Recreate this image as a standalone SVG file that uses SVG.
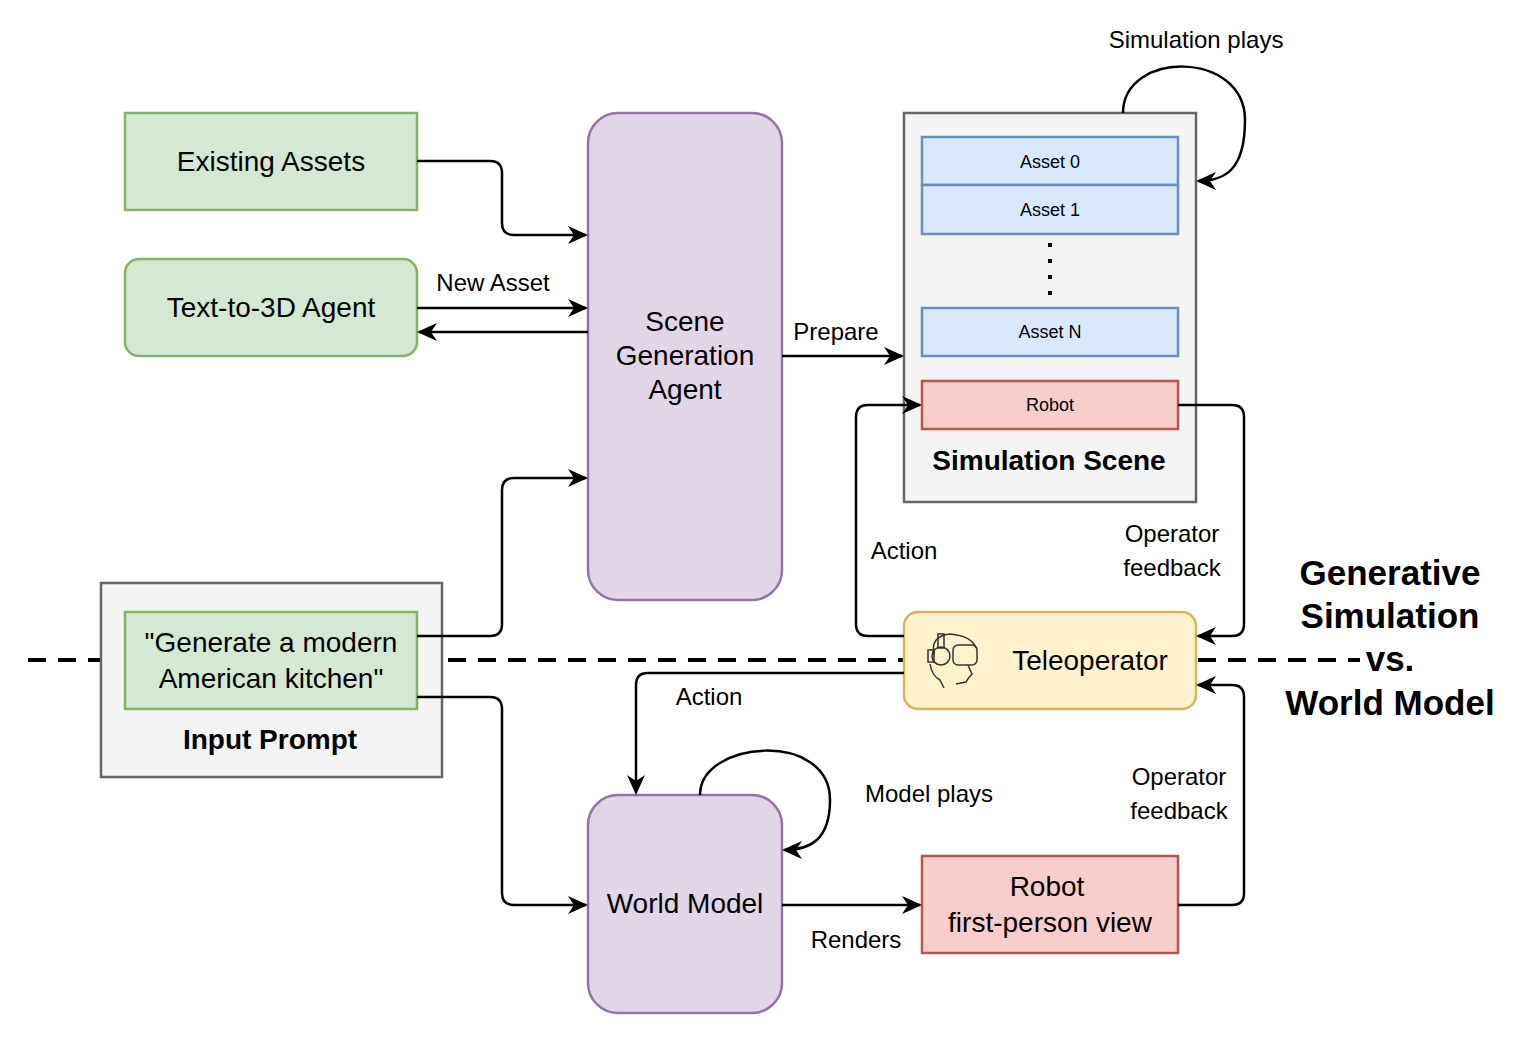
<svg xmlns="http://www.w3.org/2000/svg" width="1536" height="1042" viewBox="0 0 1536 1042">
<style>
text{font-family:"Liberation Sans",Arial,sans-serif;fill:#000}
.n{font-size:28px;text-anchor:middle}
.s{font-size:18px;text-anchor:middle}
.l{font-size:24px;text-anchor:middle}
.b{font-weight:bold;text-anchor:middle}
.g{fill:#d5e8d4;stroke:#82b366;stroke-width:2.5}
.p{fill:#e1d5e7;stroke:#9673a6;stroke-width:2.5}
.c{fill:#f5f5f5;stroke:#666;stroke-width:2.5}
.a{fill:#dae8fc;stroke:#6c8ebf;stroke-width:2.5}
.r{fill:#f8cecc;stroke:#b85450;stroke-width:2.5}
.y{fill:#fff2cc;stroke:#d6b656;stroke-width:2.5}
.e{fill:none;stroke:#000;stroke-width:2.5}
</style>
<defs><marker id="ar" viewBox="0 0 20 20" refX="18" refY="10" markerWidth="20" markerHeight="20" markerUnits="userSpaceOnUse" orient="auto"><path d="M0 1 L20 10 L0 19 L6 10 Z" fill="#000"/></marker></defs>
<line x1="28" y1="660" x2="1360" y2="660" stroke="#000" stroke-width="4" stroke-dasharray="18 12"/>
<g id="existing"><rect class="g" x="125" y="113" width="292" height="97"/><text class="n" x="271" y="171">Existing Assets</text></g>
<g id="t3d"><rect class="g" x="125" y="259" width="292" height="97" rx="14"/><text class="n" x="271" y="317">Text-to-3D Agent</text></g>
<g id="sga"><rect class="p" x="588" y="113" width="194" height="487" rx="30"/><text class="n" x="685" y="331">Scene</text><text class="n" x="685" y="365">Generation</text><text class="n" x="685" y="399">Agent</text></g>
<g id="sim"><rect class="c" x="904" y="113" width="292" height="389"/>
<rect class="a" x="922" y="137" width="256" height="48"/><text class="s" x="1050" y="168">Asset 0</text>
<rect class="a" x="922" y="185" width="256" height="49"/><text class="s" x="1050" y="216">Asset 1</text>
<line x1="1050" y1="243" x2="1050" y2="306" stroke="#000" stroke-width="4" stroke-dasharray="4 12"/>
<rect class="a" x="922" y="308" width="256" height="48"/><text class="s" x="1050" y="338">Asset N</text>
<rect class="r" x="922" y="381" width="256" height="48"/><text class="s" x="1050" y="411">Robot</text>
<text class="b" x="1049" y="470" font-size="28" fill="#333">Simulation Scene</text></g>
<g id="prompt"><rect class="c" x="101" y="583" width="341" height="194"/><rect class="g" x="125" y="612" width="292" height="97"/>
<text class="n" x="271" y="652">"Generate a modern</text><text class="n" x="271" y="688">American kitchen"</text>
<text class="b" x="270" y="749" font-size="28" fill="#333">Input Prompt</text></g>
<g id="teleop"><rect class="y" x="904" y="612" width="292" height="97" rx="14"/>
<g fill="none" stroke="#333" stroke-width="1.5"><path d="M934 655 Q930 636 950 634 Q972 636 976 648"/><rect x="953" y="645" width="24" height="20" rx="5"/><circle cx="941" cy="656" r="9"/><rect x="938" y="634" width="6" height="14"/><path d="M928 650 h6 v12 h-6z"/><path d="M930 664 Q932 676 940 680 L944 688"/><path d="M968 665 L972 674 Q968 678 966 682 L956 684"/></g>
<text class="n" x="1090" y="670">Teleoperator</text></g>
<g id="wm"><rect class="p" x="588" y="795" width="194" height="218" rx="30"/><text class="n" x="685" y="913">World Model</text></g>
<g id="fpv"><rect class="r" x="922" y="856" width="256" height="97"/><text class="n" x="1047" y="896">Robot</text><text class="n" x="1050" y="932">first-person view</text></g>
<g id="title" font-size="35"><text class="b" x="1390" y="585">Generative</text><text class="b" x="1390" y="628">Simulation</text><text class="b" x="1390" y="671">vs.</text><text class="b" x="1390" y="715">World Model</text></g>
<g id="edges" marker-end="url(#ar)">
<path class="e" d="M417 161 H490 Q502 161 502 173 V223 Q502 235 514 235 H586"/>
<path class="e" d="M417 308 H586"/>
<path class="e" d="M588 332 H419"/>
<path class="e" d="M417 636 H490 Q502 636 502 624 V490 Q502 478 514 478 H586"/>
<path class="e" d="M417 697 H490 Q502 697 502 709 V893 Q502 905 514 905 H586"/>
<path class="e" d="M782 356 H902"/>
<path class="e" d="M1123 113 C1123 50 1245 50 1245 120 C1245 170 1225 181 1198 181"/>
<path class="e" d="M1178 405 H1232 Q1244 405 1244 417 V624 Q1244 636 1232 636 H1198"/>
<path class="e" d="M904 636 H868 Q856 636 856 624 V417 Q856 405 868 405 H920"/>
<path class="e" d="M904 673 H648 Q636 673 636 685 V793"/>
<path class="e" d="M700 795 C700 740 830 730 830 800 C830 840 810 850 784 850"/>
<path class="e" d="M782 905 H920"/>
<path class="e" d="M1178 905 H1232 Q1244 905 1244 893 V697 Q1244 685 1232 685 H1198"/>
</g>
<g id="labels">
<text class="l" x="493" y="291">New Asset</text><text class="l" x="836" y="340">Prepare</text>
<text class="l" x="1196" y="48">Simulation plays</text><text class="l" x="904" y="559">Action</text>
<text class="l" x="1172" y="542">Operator</text><text class="l" x="1172" y="576">feedback</text>
<text class="l" x="709" y="705">Action</text><text class="l" x="929" y="802">Model plays</text>
<text class="l" x="1179" y="785">Operator</text><text class="l" x="1179" y="819">feedback</text>
<text class="l" x="856" y="948">Renders</text></g>
</svg>
